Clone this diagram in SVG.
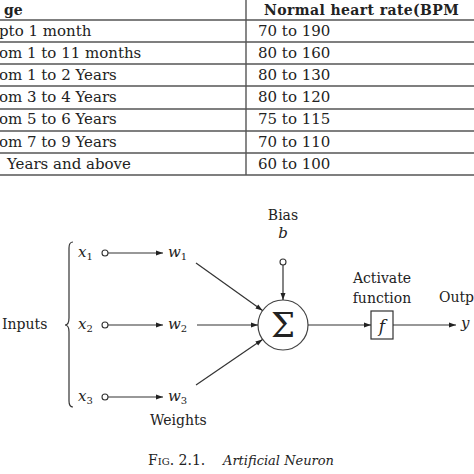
<svg xmlns="http://www.w3.org/2000/svg" width="474" height="474" viewBox="0 0 474 474">
<style>
text{font-family:"DejaVu Serif","Liberation Serif",serif;fill:#222}
.t{font-size:15px}
.b{font-size:14px;font-weight:bold}
.d{font-size:14px}
.m{font-size:15px;font-style:italic}
.s{font-size:10px;font-style:normal}
.rule{stroke:#555;stroke-width:1.4}
.ln{stroke:#333;stroke-width:1.2;fill:none}
.pt{fill:#fff;stroke:#333;stroke-width:1.1}
</style>
<defs>
<marker id="ah" markerWidth="8" markerHeight="6" refX="7" refY="3" orient="auto" markerUnits="userSpaceOnUse">
<path d="M0,0.5 L7,3 L0,5.5 Z" fill="#222"/>
</marker>
</defs>
<g id="table">
<line class="rule" x1="0" y1="20" x2="474" y2="20"/>
<line class="rule" x1="0" y1="42" x2="474" y2="42"/>
<line class="rule" x1="0" y1="64" x2="474" y2="64"/>
<line class="rule" x1="0" y1="86" x2="474" y2="86"/>
<line class="rule" x1="0" y1="109" x2="474" y2="109"/>
<line class="rule" x1="0" y1="131" x2="474" y2="131"/>
<line class="rule" x1="0" y1="153" x2="474" y2="153"/>
<line class="rule" x1="0" y1="175" x2="474" y2="175"/>
<line class="rule" x1="246" y1="0" x2="246" y2="175"/>
<text class="b" x="4" y="15">ge</text>
<text class="b" x="264" y="15" style="letter-spacing:0.4px">Normal heart rate(BPM</text>
<text class="t" x="-1" y="36">pto 1 month</text>
<text class="t" x="-1" y="58">om 1 to 11 months</text>
<text class="t" x="-1" y="80">om 1 to 2 Years</text>
<text class="t" x="-1" y="102">om 3 to 4 Years</text>
<text class="t" x="-1" y="124">om 5 to 6 Years</text>
<text class="t" x="-1" y="147">om 7 to 9 Years</text>
<text class="t" x="7" y="169">Years and above</text>
<text class="t" x="258" y="36">70 to 190</text>
<text class="t" x="258" y="58">80 to 160</text>
<text class="t" x="258" y="80">80 to 130</text>
<text class="t" x="258" y="102">80 to 120</text>
<text class="t" x="258" y="124">75 to 115</text>
<text class="t" x="258" y="147">70 to 110</text>
<text class="t" x="258" y="169">60 to 100</text>
</g>
<g id="inputs">
<text class="d" x="2" y="329">Inputs</text>
<path class="ln" d="M73,242 Q69,242 69,248 L69,318 Q69,325 65,325 Q69,325 69,332 L69,401 Q69,407 73,407" stroke="#666"/>
</g>
<g id="x1"><text class="m" x="78" y="257">x<tspan class="s" dy="3">1</tspan></text><circle class="pt" cx="105" cy="253" r="3"/></g>
<g id="x2"><text class="m" x="78" y="329">x<tspan class="s" dy="3">2</tspan></text><circle class="pt" cx="105" cy="325" r="3"/></g>
<g id="x3"><text class="m" x="78" y="401">x<tspan class="s" dy="3">3</tspan></text><circle class="pt" cx="105" cy="397" r="3"/></g>
<g id="w1"><text class="m" x="168" y="257">w<tspan class="s" dy="3">1</tspan></text></g>
<g id="w2"><text class="m" x="168" y="329">w<tspan class="s" dy="3">2</tspan></text></g>
<g id="w3"><text class="m" x="168" y="401">w<tspan class="s" dy="3">3</tspan></text></g>
<g id="weights"><text class="d" x="150" y="425">Weights</text></g>
<g id="bias">
<text class="d" x="283" y="220" text-anchor="middle">Bias</text>
<text class="m" x="283" y="238" text-anchor="middle">b</text>
<circle class="pt" cx="283" cy="262" r="3"/>
</g>
<g id="sum">
<circle cx="283" cy="325" r="25" fill="#fff" stroke="#444" stroke-width="1.2"/>
<text x="283" y="337" text-anchor="middle" style="font-size:34px">Σ</text>
</g>
<g id="activate">
<text class="d" x="382" y="283" text-anchor="middle">Activate</text>
<text class="d" x="382" y="303" text-anchor="middle">function</text>
<rect x="371" y="311" width="22" height="28" fill="#fff" stroke="#333" stroke-width="1.2"/>
<text x="382" y="332" text-anchor="middle" style="font-size:17px;font-style:italic">f</text>
</g>
<g id="output">
<text class="d" x="439" y="302">Outp</text>
<text class="m" x="461" y="328">y</text>
</g>
<g id="connectors">
<line class="ln" x1="108" y1="253" x2="163" y2="253" marker-end="url(#ah)"/>
<line class="ln" x1="108" y1="325" x2="163" y2="325" marker-end="url(#ah)"/>
<line class="ln" x1="108" y1="397" x2="163" y2="397" marker-end="url(#ah)"/>
<line class="ln" x1="196" y1="263" x2="262.5" y2="310.5" marker-end="url(#ah)"/>
<line class="ln" x1="197" y1="325" x2="258" y2="325" marker-end="url(#ah)"/>
<line class="ln" x1="196" y1="385" x2="262.5" y2="339.5" marker-end="url(#ah)"/>
<line class="ln" x1="283" y1="265" x2="283" y2="300" marker-end="url(#ah)"/>
<line class="ln" x1="308" y1="325" x2="371" y2="325" marker-end="url(#ah)"/>
<line class="ln" x1="393" y1="325" x2="456" y2="325" marker-end="url(#ah)"/>
</g>
<g id="caption">
<text x="148" y="465" style="font-size:14px;font-variant:small-caps">Fig. 2.1.</text>
<text x="223" y="465" style="font-size:13px;font-style:italic">Artificial Neuron</text>
</g>
</svg>
